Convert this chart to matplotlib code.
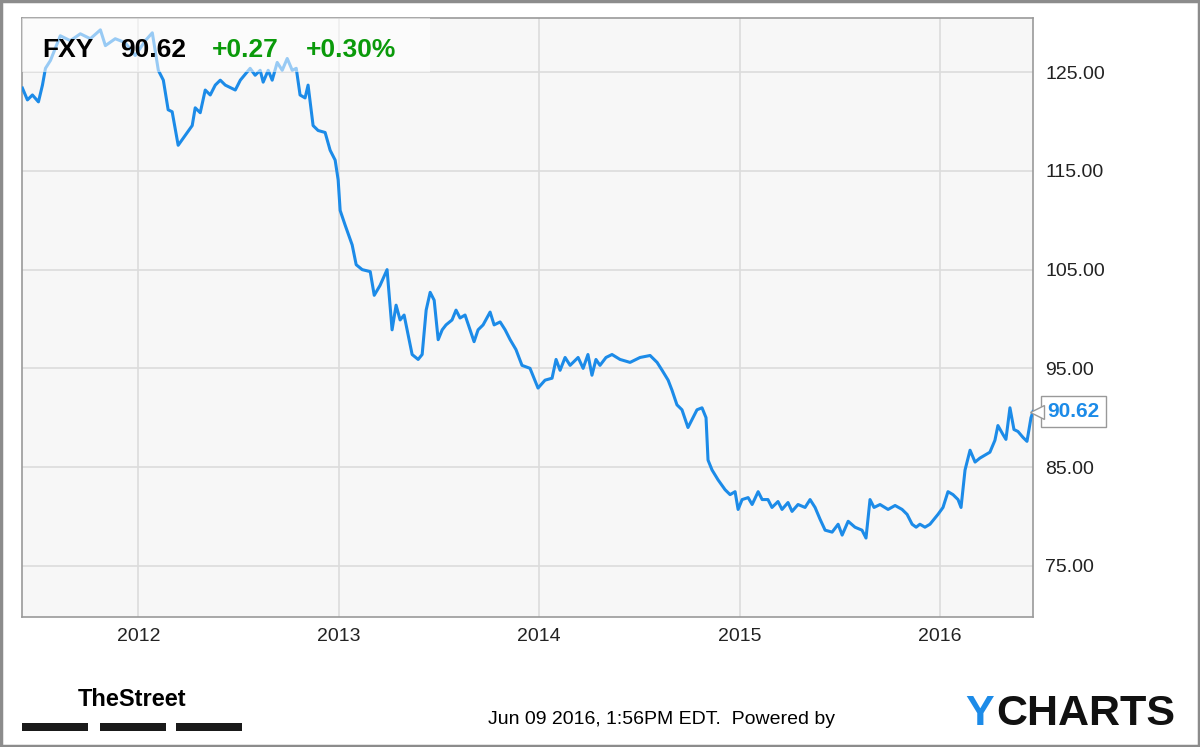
import matplotlib
matplotlib.use("Agg")
import matplotlib.pyplot as plt
from matplotlib.patches import Rectangle

plt.rcParams['font.family'] = ['Liberation Sans', 'DejaVu Sans']

dates = [2011.422,2011.447,2011.472,2011.502,2011.522,2011.537,2011.562,2011.611,2011.661,2011.711,2011.761,2011.811,2011.836,2011.885,2011.935,2011.985,
2012.035,2012.070,2012.100,2012.125,2012.149,2012.169,2012.199,2012.234,2012.269,2012.284,2012.309,2012.334,2012.359,2012.384,2012.409,2012.434,2012.484,2012.509,2012.558,2012.583,2012.608,2012.623,2012.648,2012.668,2012.693,2012.718,2012.743,2012.768,2012.788,2012.807,2012.832,2012.847,2012.872,2012.897,2012.932,2012.957,2012.982,2012.997,
2013.007,2013.032,2013.067,2013.087,2013.117,2013.157,2013.177,2013.206,2013.241,2013.266,2013.286,2013.306,2013.326,2013.346,2013.366,2013.396,2013.416,2013.436,2013.456,2013.476,2013.496,2013.516,2013.535,2013.565,2013.585,2013.605,2013.630,2013.655,2013.675,2013.695,2013.720,2013.755,2013.775,2013.805,2013.830,2013.855,2013.884,2013.914,2013.954,2013.994,
2014.029,2014.064,2014.084,2014.104,2014.129,2014.154,2014.194,2014.219,2014.243,2014.263,2014.283,2014.303,2014.333,2014.363,2014.403,2014.453,2014.503,2014.553,2014.588,2014.613,2014.643,2014.662,2014.687,2014.712,2014.742,2014.762,2014.787,2014.812,2014.832,2014.842,2014.862,2014.892,2014.927,2014.952,2014.977,2014.992,
2015.012,2015.042,2015.062,2015.092,2015.112,2015.141,2015.161,2015.191,2015.211,2015.241,2015.261,2015.291,2015.326,2015.351,2015.376,2015.401,2015.426,2015.461,2015.491,2015.511,2015.541,2015.575,2015.610,2015.630,2015.650,2015.670,2015.700,2015.740,2015.775,2015.810,2015.835,2015.860,2015.880,2015.899,2015.924,2015.949,2015.989,
2016.014,2016.039,2016.064,2016.089,2016.104,2016.124,2016.149,2016.174,2016.198,2016.223,2016.248,2016.273,2016.288,2016.313,2016.328,2016.348,2016.368,2016.388,2016.413,2016.433,2016.453,2016.463]

prices = [123.4,122.2,122.7,122.0,123.7,125.4,126.2,128.7,128.2,128.9,128.4,129.3,127.7,128.4,128.0,126.7,128.2,129.0,125.2,124.2,121.2,121.0,117.6,118.6,119.6,121.4,120.9,123.2,122.7,123.7,124.2,123.7,123.2,124.2,125.4,124.7,125.2,124.0,125.2,124.2,126.0,125.2,126.4,125.2,125.4,122.7,122.4,123.7,119.6,119.1,118.9,117.1,116.1,114.1,111.0,109.5,107.5,105.5,105.0,104.8,102.4,103.4,105.0,98.9,101.4,99.9,100.4,98.4,96.4,95.9,96.4,100.9,102.7,101.9,97.9,98.9,99.4,99.9,100.9,100.1,100.4,98.9,97.7,98.9,99.4,100.7,99.4,99.7,98.9,97.9,96.9,95.3,95.0,93.0,93.8,94.0,95.9,94.8,96.1,95.3,96.1,95.0,96.4,94.3,95.9,95.3,96.1,96.4,95.9,95.6,96.1,96.3,95.6,94.8,93.8,92.8,91.3,90.8,89.0,89.8,90.8,91.0,90.0,85.7,84.7,83.7,82.7,82.2,82.5,80.7,81.7,81.9,81.2,82.5,81.7,81.7,80.9,81.5,80.7,81.4,80.5,81.2,80.9,81.7,80.9,79.7,78.6,78.4,79.2,78.1,79.5,78.9,78.6,77.8,81.7,80.9,81.2,80.7,81.1,80.7,80.2,79.2,78.9,79.2,78.9,79.2,80.2,80.9,82.5,82.2,81.7,80.9,84.7,86.7,85.5,85.9,86.2,86.5,87.7,89.2,88.3,87.8,91.0,88.8,88.6,88.0,87.6,90.0,90.62]

n = min(len(dates), len(prices))
dates, prices = dates[:n], prices[:n]

year_ticks = [2012, 2013, 2014, 2015, 2016]
year_labels = ["2012", "2013", "2014", "2015", "2016"]
price_ticks = [75, 85, 95, 105, 115, 125]
price_labels = ["75.00", "85.00", "95.00", "105.00", "115.00", "125.00"]
ticker, last, chg, pct = "FXY", "90.62", "+0.27", "+0.30%"

W, H = 1200, 747
fig = plt.figure(figsize=(12, 7.47), dpi=100)
fig.patch.set_facecolor('white')
fig.patches.append(Rectangle((0.001, 0.001), 0.998, 0.997, transform=fig.transFigure,
                             fill=False, edgecolor='#8c8c8c', linewidth=2.5))

ax = fig.add_axes([22/W, (H-617)/H, 1011/W, 599/H])
ax.set_facecolor('#f7f7f7')
ax.set_xlim(2011.42, 2016.463)
ax.set_ylim(69.8, 130.5)
ax.set_xticks(year_ticks)
ax.set_xticklabels(year_labels)
ax.set_yticks(price_ticks)
ax.set_yticklabels(price_labels)
ax.yaxis.tick_right()
ax.tick_params(length=0, labelsize=14, colors='#222222', pad=8)
ax.tick_params(axis='y', pad=9)
ax.grid(True, color='#dcdcdc', linewidth=1.2)
ax.set_axisbelow(True)
for s in ax.spines.values():
    s.set_color('#9a9a9a'); s.set_linewidth(1.2)

ax.plot(dates, prices, color='#1c8be8', linewidth=2.2, zorder=3)

# title box
ax.add_patch(Rectangle((0, 1 - 54/599), 408/1011, 54/599, transform=ax.transAxes,
                       facecolor='white', alpha=0.55, edgecolor='none', zorder=4))
ty = 1 - 32/599
ax.text(20/1011, ty, ticker, transform=ax.transAxes, fontsize=19, fontweight='bold', color='black', va='center', zorder=5)
ax.text(98/1011, ty, last, transform=ax.transAxes, fontsize=19, fontweight='bold', color='black', va='center', zorder=5)
ax.text(190/1011, ty, chg, transform=ax.transAxes, fontsize=19, fontweight='bold', color='#0a9a0a', va='center', zorder=5)
ax.text(284/1011, ty, pct, transform=ax.transAxes, fontsize=19, fontweight='bold', color='#0a9a0a', va='center', zorder=5)

# last value tag
ax.annotate(last, xy=(1.0, prices[-1]), xycoords=('axes fraction', 'data'),
            xytext=(1.0 + 14/1011, prices[-1]), textcoords=('axes fraction', 'data'),
            fontsize=15, fontweight='bold', color='#1c8be8', va='center', ha='left',
            bbox=dict(boxstyle='square,pad=0.3', facecolor='white', edgecolor='#999999'),
            annotation_clip=False)
ax.plot([1.0 + 4/1011], [prices[-1]], marker='<', markersize=10, color='#999999',
        markerfacecolor='white', transform=ax.get_yaxis_transform(), clip_on=False, zorder=6)

# footer
fig.text(78/W, 1 - 700/H, "TheStreet", fontsize=17, fontweight='bold', color='black',
         va='center', ha='left')
for x0 in (22, 100, 176):
    fig.patches.append(Rectangle((x0/W, 1 - 731/H), 66/W, 8/H, transform=fig.transFigure,
                                 facecolor='#1a1a1a', edgecolor='none'))
fig.text(835/W, 1 - 719/H, "Jun 09 2016, 1:56PM EDT.  Powered by", fontsize=14, color='black',
         va='center', ha='right')
fig.text(965/W, 1 - 714/H, "Y", fontsize=31, fontweight='bold', color='#1c8be8', va='center', ha='left')
fig.text(996/W, 1 - 714/H, "CHARTS", fontsize=31, fontweight='bold', color='#111111', va='center', ha='left')

fig.savefig("out.png", dpi=100)
